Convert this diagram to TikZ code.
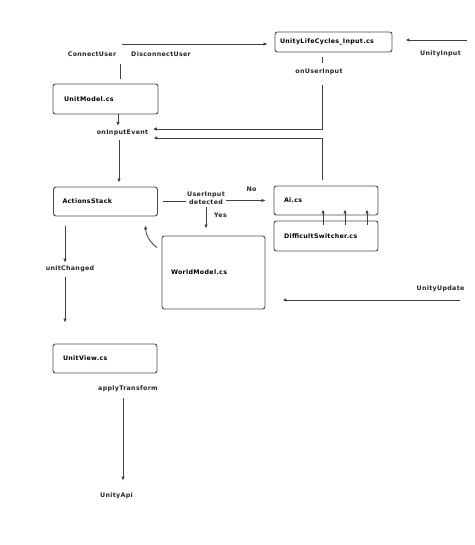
\documentclass[tikz,border=0pt]{standalone}
\usepackage{fontspec}
\setmainfont{DejaVu Sans}[LetterSpace=5]
\usetikzlibrary{arrows.meta,
                positioning}

\begin{document}
\begin{tikzpicture}[
        x=1pt, y=-1pt,
        font=\fontsize{6.3}{8}\selectfont\bfseries,
        module/.style={rectangle, rounded corners=2.5pt, draw=black!70, line width=0.9pt, align=left, inner xsep=10pt, inner ysep=0pt},
        msg/.style={inner sep=1pt, align=center, text=black!85},
        flow/.style={draw=black!75, line width=0.8pt, -{Latex[length=4pt,width=3.5pt]}},
        wire/.style={draw=black!75, line width=0.8pt}
        ]
        \useasboundingbox (0,0) rectangle (474,545);

        % modules
        \node (life)  [module, text width=107pt, inner xsep=5pt, minimum height=20pt] at (333.5,42)  {UnityLifeCycles\_Input.cs};
        \node (unitmodel) [module, text width=83pt, inner xsep=11pt, minimum height=30pt] at (105.5,99) {UnitModel.cs};
        \node (actions) [module, text width=86pt, inner xsep=9pt, minimum height=29pt] at (105.5,201.5) {ActionsStack};
        \node (ai)    [module, text width=84pt, minimum height=29pt] at (326,200.5) {Ai.cs};
        \node (diff)  [module, text width=84pt, minimum height=30pt] at (326,236)   {DifficultSwitcher.cs};
        \node (world) [module, text width=85pt, inner xsep=9pt, minimum height=73pt] at (213.5,272.5) {WorldModel.cs};
        \node (view)  [module, text width=84pt, minimum height=29pt] at (105,358.5) {UnitView.cs};

        % messages
        \node (connect)    [msg] at (92,54)    {ConnectUser};
        \node (disconnect) [msg] at (161,54)   {DisconnectUser};
        \node (event)      [msg] at (122.5,133) {onInputEvent};
        \node (userinput)  [msg] at (319,72)   {onUserInput};
        \node (unityinput) [msg] at (440.5,54) {UnityInput};
        \node (detected)   [msg] at (206,198.5) {UserInput\\detected};
        \node (no)         [msg] at (251.5,189) {No};
        \node (yes)        [msg] at (220.5,215.5) {Yes};
        \node (changed)    [msg] at (70,269)   {unitChanged};
        \node (apply)      [msg] at (128,389)  {applyTransform};
        \node (api)        [msg] at (116.5,496) {UnityApi};
        \node (update)     [msg] at (440.5,289) {UnityUpdate};

        % free ends
        \coordinate (userstart)  at (122,44);
        \coordinate (inputstart) at (467,40);
        \coordinate (updstart)   at (460,300);
        \coordinate (lane)       at (65,0);
        \coordinate (apilane)    at (123,0);

        % connectors
        \draw [flow, shorten >=7pt] (userstart) -- (userstart -| life.west);
        \draw [wire] ([xshift=14.5pt,yshift=20pt]unitmodel.north) -- ([xshift=14.5pt,yshift=5pt]unitmodel.north);
        \draw [flow, shorten >=3pt] ([xshift=12.5pt]unitmodel.south) -- ([xshift=-4.5pt]event.north);
        \draw [flow, shorten >=3.5pt, shorten <=9pt] (userinput.south -| 322,0) |- ([yshift=4pt]event.east);
        \draw [wire] ([xshift=-11.5pt,yshift=-5pt]life.south) -- ++(0,6);
        \draw [flow, shorten >=4pt, shorten <=6pt] ([xshift=-4pt]ai.north) |- ([yshift=-5pt]event.east);
        \draw [flow, shorten <=3pt, shorten >=4pt] ([xshift=-3.5pt]event.south) -- ([xshift=13.5pt]actions.north);
        \draw [wire, shorten <=5pt] (actions.east) -- (actions.east -| detected.west);
        \draw [flow, shorten >=8pt] (detected.east |- ai.west) -- (ai.west);
        \draw [flow, shorten <=1pt, shorten >=7pt] (detected.south) -- (detected.south |- world.north);
        \draw [flow] ([xshift=-4.5pt,yshift=-12pt]world.north west) to [bend left=25] ([xshift=-12.5pt,yshift=-9pt]actions.south east);
        \foreach \dx in {-3,19,41}
            \draw [flow] ([xshift=\dx pt,yshift=-4pt]diff.north) -- ([xshift=\dx pt,yshift=6pt]ai.south);
        \draw [flow, shorten <=10pt, shorten >=2pt] (lane |- actions.south) -- (lane |- changed.north);
        \draw [flow, shorten <=4pt, shorten >=21pt] (lane |- changed.south) -- (lane |- view.north);
        \draw [flow, shorten <=5pt, shorten >=11pt] (apilane |- apply.south) -- (apilane |- api.north);
        \draw [flow, shorten >=13pt] (inputstart) -- (inputstart -| life.east);
        \draw [flow, shorten >=17pt] (updstart) -- (updstart -| world.east);

    \end{tikzpicture}
\end{document}
